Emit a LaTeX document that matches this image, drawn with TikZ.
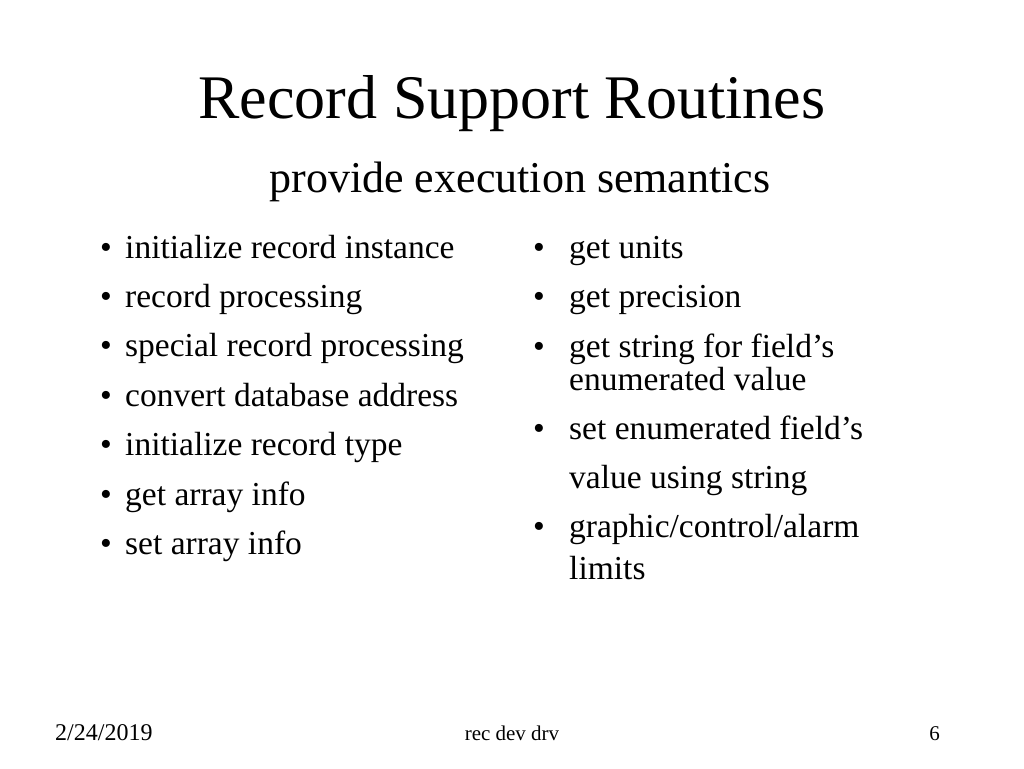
\documentclass[tikz,border=0pt]{standalone}
\usepackage{fontspec}
\setmainfont{Liberation Serif}
\begin{document}
\begin{tikzpicture}[x=1pt,y=-1pt,
  txt/.style={anchor=base west,inner sep=0pt,font=\fontsize{33.5}{33.5}\selectfont},
  bul/.style={anchor=base west,inner sep=0pt,font=\fontsize{33.5}{33.5}\selectfont},
  foot/.style={inner sep=0pt,font=\fontsize{21}{21}\selectfont}]
\useasboundingbox (0,0) rectangle (1024,768);
\node[anchor=base,inner sep=0pt,font=\fontsize{62}{62}\selectfont] (title) at (512,118) {Record Support Routines};
\node[anchor=base,inner sep=0pt,font=\fontsize{44}{44}\selectfont] (sub) at (520,192) {provide execution semantics};
\foreach \t [count=\i] in {initialize record instance,record processing,special record processing,convert database address,initialize record type,get array info,set array info}{
  \node[bul] (lb\i) at (100,{258+49.4*(\i-1)}) {•};
  \node[txt] (l\i) at (125,{258+49.4*(\i-1)}) {\t};
}
\foreach \y/\t [count=\i] in {258/get units,307/get precision,357/get string for field’s,439/set enumerated field’s,537/{graphic/control/alarm}}{
  \node[bul] (rb\i) at (533,\y) {•};
  \node[txt] (r\i) at (569,\y) {\t};
}
\node[txt] (r3b) at (569,390) {enumerated value};
\node[txt] (r4b) at (569,488) {value using string};
\node[txt] (r5b) at (569,579) {limits};
\node[foot,anchor=base west,font=\fontsize{24}{24}\selectfont] (f1) at (55,740) {2/24/2019};
\node[foot,anchor=base] (f2) at (512,740) {rec dev drv};
\node[foot,anchor=base east] (f3) at (940,740) {6};
\end{tikzpicture}
\end{document}
